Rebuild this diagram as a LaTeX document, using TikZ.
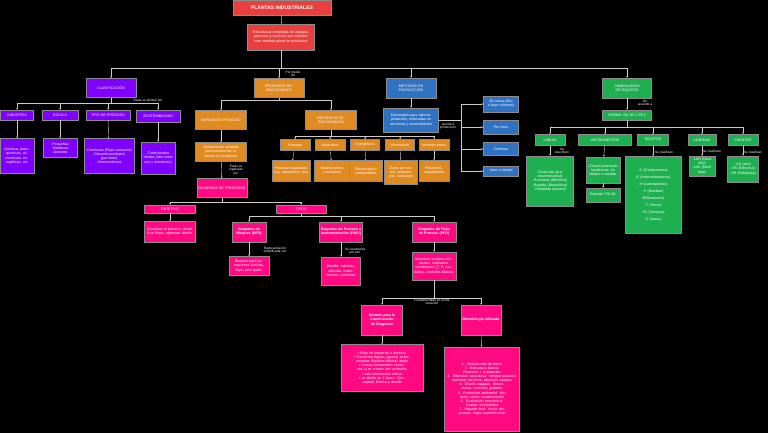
\documentclass[tikz,border=0pt]{standalone}
\usepackage{fontspec}
\setmainfont{Liberation Sans}
\usetikzlibrary{arrows.meta}
\definecolor{cred}{HTML}{E8403F}
\definecolor{cpur}{HTML}{7F00FF}
\definecolor{cora}{HTML}{E08A22}
\definecolor{cblu}{HTML}{2F72C2}
\definecolor{cgre}{HTML}{1EB050}
\definecolor{cpin}{HTML}{FF0A82}
\tikzset{
 bx/.style={draw=white!55!black,line width=0.3pt,text=white,align=center,inner sep=0.5pt,font=\fontsize{3.6}{4.1}\selectfont},
 rd/.style={bx,fill=cred}, pu/.style={bx,fill=cpur}, og/.style={bx,fill=cora},
 bl/.style={bx,fill=cblu}, gr/.style={bx,fill=cgre}, pk/.style={bx,fill=cpin},
 ar/.style={draw=white!80!black,line width=0.4pt,-{Stealth[length=1.8pt,width=1.6pt]}},
 lb/.style={text=white,align=center,font=\fontsize{3.2}{3.6}\selectfont,inner sep=0pt}
}
\newcommand{\bn}[6]{\node[#1,minimum width=#4pt,minimum height=#5pt,text width=#4pt-2pt] (#2) at (#3) {#6};}
\newcommand{\tr}[3]{\draw[ar] (#1.south) -- (#1.south |- 0,#2) -| (#3.north);}
\begin{document}
\begin{tikzpicture}[x=1pt,y=-1pt]
\fill[black] (0,0) rectangle (768,433);
\useasboundingbox (0,0) rectangle (768,433);
% top
\bn{rd,font=\fontsize{5}{6}\selectfont\bfseries}{t}{282,7.5}{98}{15}{PLANTAS INDUSTRIALES}
\bn{rd}{d}{281,37}{67}{26}{Estructuras complejas de equipos, procesos y recursos que transforman materia prima en productos}
\draw[ar] (t) -- (d);
\bn{pu}{cla}{111,88}{50}{19}{CLASIFICACIÓN}
\bn{og}{pro}{279,88}{50}{19}{PROCESOS OPERACIONALES}
\bn{bl}{met}{411,88}{50}{20}{MÉTODOS DE PRODUCCIÓN}
\bn{gr}{sim}{627,88}{49}{20}{SIMBOLOGÍAS DE EQUIPOS}
\tr{d}{68}{cla}\tr{d}{68}{pro}\tr{d}{68}{met}\tr{d}{68}{sim}
\node[lb] at (293,74) {Por medio\\de};
% clasificacion
\bn{pu}{ind}{17,115}{33}{10}{INDUSTRIA}
\bn{pu}{esc}{60,115}{36}{10}{ESCALA}
\bn{pu}{tip}{108,115}{44}{10}{TIPO DE PROCESO}
\bn{pu}{sos}{158,116}{44}{12}{SOSTENIBILIDAD}
\tr{cla}{103}{ind}\tr{cla}{103}{esc}\tr{cla}{103}{tip}\tr{cla}{103}{sos}
\node[lb,fill=black,inner sep=0.5pt] at (148,101) {Estás se dividen por};
\bn{pu}{ind2}{17,156}{34}{35}{Química, petroquímicas, alimenticias, energéticas, etc}
\bn{pu}{esc2}{60,148}{34}{19}{-Pequeñas\\-Medianas\\-Grandes}
\bn{pu}{tip2}{109,156}{50}{35}{-Continuos (Flujo constante)\\-Discontinuos/batch (por lotes)\\-Semicontinuos}
\bn{pu}{sos2}{158,158}{34}{32}{-Tradicionales\\-Verdes (Min residuos y emisiones)}
\draw[ar] (ind)--(ind2); \draw[ar] (esc)--(esc2); \draw[ar] (tip)--(tip2); \draw[ar] (sos)--(sos2);
% procesos
\bn{og}{def}{221,120}{51}{19}{DEFINICIÓN PROCESO}
\bn{og}{rec}{331,120}{51}{19}{RECURSOS OPERACIONALES}
\tr{pro}{100}{def}\tr{pro}{100}{rec}
\bn{og}{ope}{221,152}{51}{19}{Operaciones unitarias para transformar insumos en productos}
\draw[ar] (def)--(ope);
\bn{pk}{dia}{222,188}{50}{19}{DIAGRAMA DE PROCESOS}
\draw[ar] (ope)--(dia);
\node[lb] at (236,170) {Estás se\\organizan\\por};
\bn{og}{hum}{295,145}{30}{11}{Humana}
\bn{og}{mat}{330,145}{30}{11}{Materiales}
\bn{og}{ene}{365,145}{29}{11}{Energéticos}
\bn{og}{inf}{400,145}{29}{11}{Información}
\bn{og}{inf2}{434,145}{30}{11}{Infraestructura}
\tr{rec}{136}{hum}\tr{rec}{136}{mat}\tr{rec}{136}{ene}\tr{rec}{136}{inf}\tr{rec}{136}{inf2}
\bn{og}{hum2}{291,171}{38}{21}{Personal capacitado (ing, operadores, etc)}
\bn{og}{mat2}{332,171}{35}{21}{Materia prima y auxiliares}
\bn{og}{ene2}{366,171}{33}{21}{Electricidad y combustibles}
\bn{og}{inf3}{401,172}{33}{24}{Datos de control, software, sist. monitoreo}
\bn{og}{inf4}{434,171}{30}{21}{Reactores, separadores}
\draw[ar](hum)--(hum2);\draw[ar](mat)--(mat2);\draw[ar](ene)--(ene2);\draw[ar](inf)--(inf3);\draw[ar](inf2)--(inf4);
% metodos
\bn{bl}{est}{411,120}{55}{24}{Estrategias para fabricar productos, enfocadas en eficiencia y sostenibilidad}
\draw[ar] (met)--(est);
\node[lb] at (448,126) {acorde a\\producción};
\bn{bl}{mas}{501,104}{35}{16}{En masa (Alto o bajo volumen)}
\bn{bl}{lot}{501,127}{35}{14}{Por lotes}
\bn{bl}{con}{501,149}{35}{13}{Continua}
\bn{bl}{jat}{501,171}{35}{10}{Justo a tiempo}
\draw[ar] (est.east) -- (461,120) |- (mas.west);
\draw[ar] (461,120) |- (lot.west);
\draw[ar] (461,120) |- (con.west);
\draw[ar] (461,120) |- (jat.west);
% simbologia
\bn{gr}{isa}{627,115}{49}{10}{NORMA ISA S5.1 S5.3}
\draw[ar] (sim)--(isa);
\node[lb] at (645,103) {De\\acuerdo a};
\bn{gr}{lin}{550,140}{30}{11}{LINEAS}
\bn{gr}{ins}{605,140}{53}{11}{INSTRUMENTOS}
\bn{gr}{equ}{653,140}{31}{11}{EQUIPOS}
\bn{gr}{ala}{702,140}{28}{11}{ALARMAS}
\bn{gr}{fue}{743,140}{30}{11}{FUENTES}
\tr{isa}{127}{lin}\tr{isa}{127}{ins}\tr{isa}{127}{equ}\tr{isa}{127}{ala}\tr{isa}{127}{fue}
\bn{gr}{lin2}{550,181}{47}{50}{-Continuas (proceso/mecánica)\\-Punteada (Eléctrica)\\-Rayada (Neumática)\\-Ondulada (sonora)}
\bn{gr}{ins2}{603,170}{34}{26}{-Círculo (montado localmente, en tablero o auxiliar}
\bn{gr}{ins3}{603,195}{34}{14}{Ejemplo TIC-68}
\bn{gr}{equ2}{653,195}{56}{77}{-C (Compresores)\\[3pt]-E (Intercambiadores)\\[3pt]-H (calentadores)\\[3pt]-P (Bombas)\\[3pt]-R(Reactores)\\[3pt]-T (Torres)\\[3pt]-TK (Tanques)\\[3pt]-V (Vasos)}
\bn{gr}{ala2}{702,166}{26}{20}{-LAH (Nivel Alto)\\-LSL (Nivel bajo)}
\bn{gr}{fue2}{743,169}{31}{26}{-AS (aire)\\-ES (Eléctrica)\\-HS (Hidráulica)}
\draw[ar](lin)--(lin2);\draw[ar](ins)--(ins2);\draw[ar](ins2)--(ins3);\draw[ar](equ)--(equ2);\draw[ar](ala)--(ala2);\draw[ar](fue)--(fue2);
\node[lb] at (562,151) {Se\\describen};
\node[lb] at (664,152) {Se clasifican};
\node[lb] at (712,151) {Se clasifican};
\node[lb] at (753,152) {Se clasifican};
% diagrama
\bn{pk}{obj}{170,209}{51}{8}{OBJETIVO}
\bn{pk}{tps}{301,209}{50}{8}{TIPOS}
\tr{dia}{202}{obj}\tr{dia}{202}{tps}
\bn{pk}{vis}{170,232}{51}{21}{Visualizar el proceso, identificar flujos, optimizar diseño}
\draw[ar](obj)--(vis);
\bn{pk}{dbl}{249,232}{34}{20}{\textbf{Diagrama de Bloques (BFD)}}
\bn{pk}{pid}{341,232}{43}{20}{\textbf{Diagrama de Proceso e Instrumentación (P\&ID)}}
\bn{pk}{pfd}{434,232}{44}{20}{\textbf{Diagrama de Flujo de Proceso (PFD)}}
\tr{tps}{216}{dbl}\tr{tps}{216}{pid}\tr{tps}{216}{pfd}
\bn{pk}{dbl2}{249,266}{40}{19}{Bloques para operaciones básicas, flujos principales}
\bn{pk}{pid2}{341,271}{39}{28}{Detalla: tuberías, válvulas, instrumentos, controles}
\bn{pk}{pfd2}{434,266}{44}{28}{Muestran equipos principales, corrientes, condiciones (T, P, caudales), controles básicos}
\draw[ar](dbl)--(dbl2);\draw[ar](pid)--(pid2);\draw[ar](pfd)--(pfd2);
\node[lb] at (275,250) {Representación\\simplificada con};
\node[lb] at (355,251) {Se caracteriza\\por eso};
\bn{pk}{nor}{382,320}{41}{30}{\textbf{Normas para la Construcción de Diagrama}}
\bn{pk}{mto}{481,320}{40}{30}{\textbf{Metodología utilizada}}
\tr{pfd2}{298}{nor}\tr{pfd2}{298}{mto}
\node[lb] at (432,302) {Fundamentado en forma\\sucesión};
\bn{pk}{nor2}{382,368}{82}{47}{• Flujo de izquierda a derecha\\• Corrientes ligeras (gases) arriba, pesadas (líquidos/sólidos) abajo\\• Líneas horizontales continuas si se cruzan con verticales\\• solo información crítica\\• se divide en 3 fases: Conceptual, Básica y detalle}
\bn{pk}{mto2}{482,389}{75}{84}{1.\ \ Recolección de datos\\2.\ \ Estructura básica: Reacción + separación\\3.\ \ Selección caso base: Integrar proceso, optimizar servicios, objetivos equipos\\4.\ \ Diseño equipos: Dimensionar, controles globales\\5.\ \ Protección ambiental: Medidas contra contaminación\\6.\ \ Evaluación económica: Costos, rentabilidad\\7.\ \ Reporte final: Incluir diagramas, hojas especificación}
\draw[ar](nor)--(nor2);\draw[ar](mto)--(mto2);
\end{tikzpicture}
\end{document}
